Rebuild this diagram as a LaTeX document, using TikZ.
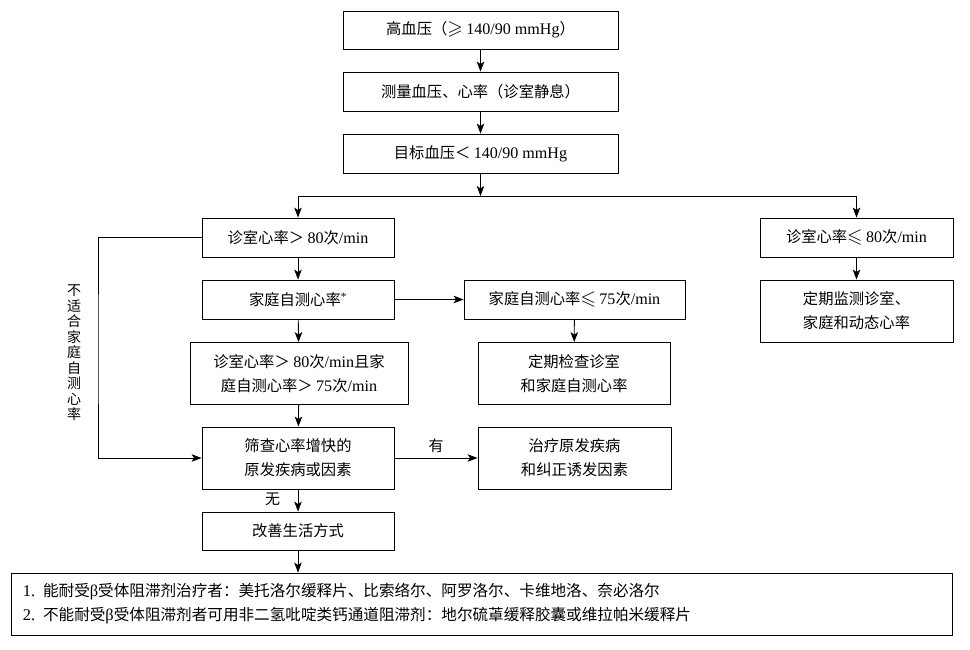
\documentclass[tikz,border=0pt]{standalone}
\usepackage{amssymb}
\usepackage{graphicx}
\usepackage{fontspec}
\usepackage{tikz}
\usetikzlibrary{arrows.meta}
\setmainfont{Noto Sans CJK SC}
\newfontfamily\lat[Scale=1.05]{Liberation Serif}
\newcommand\geqs{\scalebox{1.3}{$\geqslant$}}
\newcommand\leqs{\scalebox{1.3}{$\leqslant$}}

\tikzset{
  box/.style={draw, line width=0.85pt, align=center, inner sep=0pt,
    font=\fontsize{15.3}{24}\selectfont},
  arr/.style={line width=0.85pt, -{Stealth[length=10pt,width=7.5pt,inset=2.5pt]}},
}

\begin{document}
\begin{tikzpicture}[x=1pt, y=-1pt]
      \useasboundingbox (0,0) rectangle (970,649);
      % main column
      \node[box, minimum width=275pt, minimum height=38pt] (hbp) at (480.5,30)
        {高血压（\geqs\ {\lat 140/90 mmHg}）};
      \node[box, minimum width=275pt, minimum height=39pt] (meas) at (480.5,91.5)
        {测量血压、心率（诊室静息）};
      \node[box, minimum width=275pt, minimum height=39pt] (target) at (480.5,153.5)
        {目标血压＜ {\lat 140/90 mmHg}};
      \coordinate (split) at (480.5,196);
      % left branch
      \node[box, minimum width=192pt, minimum height=39pt] (office) at (298,237.5)
        {诊室心率＞ {\lat 80}次{\lat /min}};
      \node[box, minimum width=192pt, minimum height=39pt] (home) at (298,299.5)
        {家庭自测心率\textsuperscript{\lat *}};
      \node[box, minimum width=218pt, minimum height=62pt] (both) at (299,373.5)
        {诊室心率＞ {\lat 80}次{\lat /min}且家\\庭自测心率＞ {\lat 75}次{\lat /min}};
      \node[box, minimum width=192pt, minimum height=62pt] (screen) at (298,458)
        {筛查心率增快的\\原发疾病或因素};
      \node[box, minimum width=192pt, minimum height=38pt] (life) at (298,531)
        {改善生活方式};
      % middle column
      \node[box, minimum width=221pt, minimum height=39pt] (homelow) at (574.5,299.5)
        {家庭自测心率\leqs\ {\lat 75}次{\lat /min}};
      \node[box, minimum width=192pt, minimum height=62pt] (check) at (574,373.5)
        {定期检查诊室\\和家庭自测心率};
      \node[box, minimum width=193pt, minimum height=62pt] (treat) at (574.5,458)
        {治疗原发疾病\\和纠正诱发因素};
      % right branch
      \node[box, minimum width=193pt, minimum height=39pt] (officelow) at (856.5,237.5)
        {诊室心率\leqs\ {\lat 80}次{\lat /min}};
      \node[box, minimum width=193pt, minimum height=62pt] (monitor) at (856.5,311)
        {定期监测诊室、\\家庭和动态心率};
      % drugs
      \node[box, minimum width=941pt, minimum height=62pt, text width=917pt,
        align=left, font=\fontsize{15.6}{24}\selectfont] (drugs) at (481.5,604)
        {{\lat 1.}\enspace 能耐受{\lat β}受体阻滞剂治疗者：美托洛尔缓释片、比索络尔、阿罗洛尔、卡维地洛、奈必洛尔\\
         {\lat 2.}\enspace 不能耐受{\lat β}受体阻滞剂者可用非二氢吡啶类钙通道阻滞剂：地尔硫䓬缓释胶囊或维拉帕米缓释片};
      \node[font=\fontsize{14}{15.5}\selectfont, align=center, inner sep=0pt] (unfit)
        at (74,353) {不\\适\\合\\家\\庭\\自\\测\\心\\率};
      \coordinate (side) at (98,350);

      % connectors
      \draw[arr] (hbp) -- (meas);
      \draw[arr] (meas) -- (target);
      \draw[arr] (target) -- (split);
      \draw[arr] (split) -| (office);
      \draw[arr] (split) -| (officelow);
      \draw[arr] (office) -- (home);
      \draw[arr] (home) -- (both);
      \draw[arr] (both) -- (screen);
      \draw[arr] (screen) -- node[pos=0.45, left=14pt, font=\fontsize{15}{16}\selectfont] (no) {无} (life);
      \draw[arr] (life) -- (life |- drugs.north);
      \draw[arr] (home) -- (homelow);
      \draw[arr] (homelow) -- (check);
      \draw[arr] (officelow) -- (monitor);
      \draw[arr] (screen) -- node[pos=0.5, above=2pt, font=\fontsize{15}{16}\selectfont] (yes) {有} (treat);
      \draw[arr] (office.west) -| (side) |- (screen.west);
    \end{tikzpicture}
\end{document}
